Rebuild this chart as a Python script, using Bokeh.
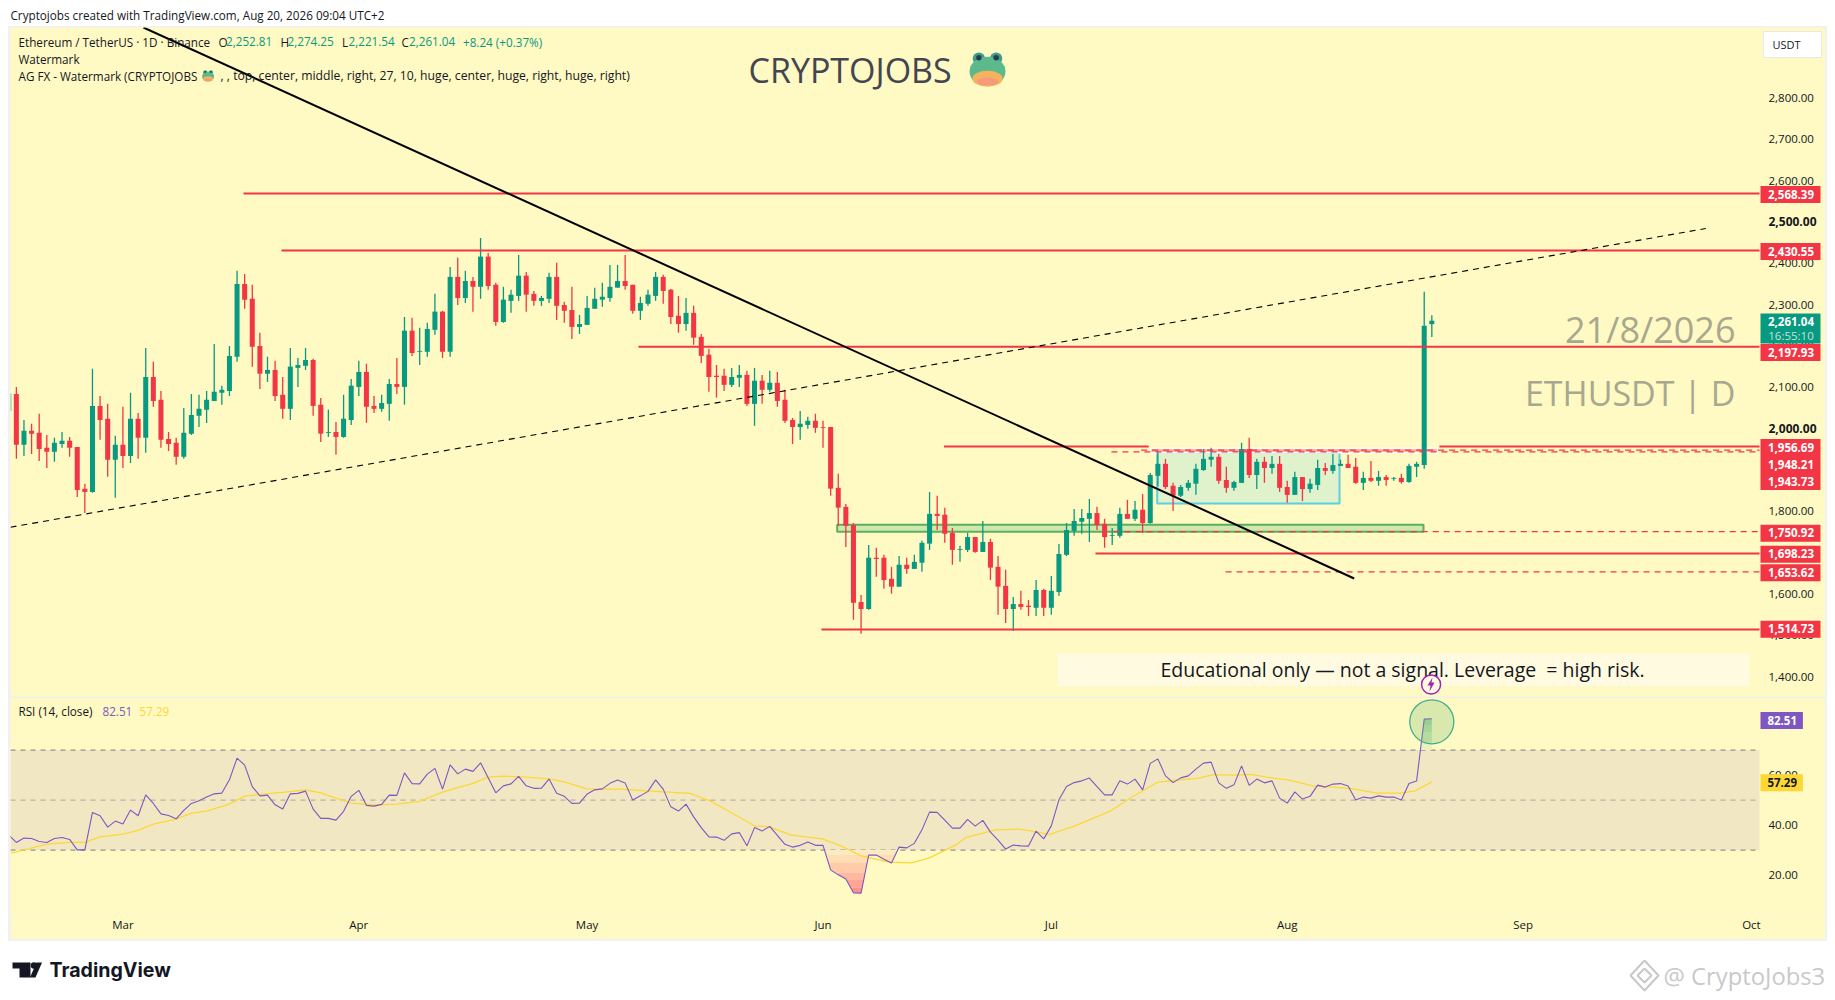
import numpy as np
from bokeh.plotting import figure
from bokeh.layouts import column
from bokeh.models import (Range1d, FixedTicker, NumeralTickFormatter, Label, BoxAnnotation,
                          ColumnDataSource, LinearAxis)
from bokeh.core.properties import value
from bokeh.embed import file_html
from bokeh.resources import INLINE

FIRST_DAY = -15   # day index relative to 1 March 2026
opens = [2043,2084,1961,1995,1990,1954,1944,1963,1971,1956,
 1855,1847,2055,2024,1925,1961,1934,2024,1978,2125,
 2070,1975,1966,1932,1988,2031,2046,2067,2087,2091,
 2174,2350,2314,2200,2133,2142,2082,2048,2147,2152,
 2166,2058,1990,1992,1980,2021,2101,2137,2055,2048,
 2060,2108,2101,2237,2186,2186,2239,2283,2186,2367,
 2316,2357,2343,2416,2348,2258,2309,2321,2370,2326,
 2309,2314,2367,2299,2287,2246,2251,2290,2312,2316,
 2341,2357,2348,2285,2302,2321,2367,2336,2273,2253,
 2280,2222,2179,2128,2128,2106,2123,2130,2060,2116,
 2094,2111,2070,2021,2004,2009,2019,2004,2004,1857,
 1811,1767,1581,1564,1688,1688,1637,1618,1671,1661,
 1676,1722,1794,1792,1748,1707,1707,1738,1702,1726,
 1666,1620,1564,1576,1572,1567,1610,1567,1605,1695,
 1753,1775,1782,1796,1770,1741,1741,1794,1782,1804,
 1772,1886,1915,1862,1838,1857,1867,1900,1925,1932,
 1876,1857,1869,1951,1888,1920,1905,1915,1859,1840,
 1883,1854,1864,1905,1898,1910,1915,1908,1869,1881,
 1874,1883,1879,1881,1871,1908,1912,2252.81]
highs = [2085,2101,2021,2012,2036,1985,1978,1992,1980,1956,
 1867,2145,2079,2060,1983,2053,2087,2038,2195,2162,
 2091,1992,1978,2050,2084,2082,2091,2205,2104,2200,
 2382,2374,2348,2232,2174,2164,2125,2195,2171,2195,
 2169,2074,2046,2016,2082,2120,2164,2157,2079,2082,
 2120,2171,2270,2268,2244,2256,2326,2285,2391,2413,
 2382,2367,2461,2425,2353,2343,2336,2420,2379,2333,
 2321,2377,2401,2307,2343,2275,2321,2341,2353,2396,
 2396,2420,2348,2319,2336,2379,2372,2338,2321,2316,
 2297,2229,2193,2154,2145,2147,2154,2140,2147,2130,
 2140,2137,2094,2026,2043,2029,2036,2019,2004,1891,
 1818,1772,1598,1719,1712,1695,1666,1692,1688,1695,
 1729,1847,1838,1809,1760,1717,1748,1738,1777,1734,
 1692,1659,1593,1608,1586,1634,1613,1644,1721,1772,
 1806,1806,1830,1811,1782,1760,1809,1828,1825,1842,
 1893,1944,1927,1869,1864,1876,1915,1951,1954,1939,
 1908,1874,1966,1978,1927,1932,1934,1934,1874,1896,
 1883,1879,1925,1917,1939,1925,1937,1929,1896,1922,
 1898,1888,1883,1891,1915,1920,2331,2274.25]
lows = [2043,1927,1934,1939,1922,1905,1920,1954,1932,1835,
 1796,1845,1973,1884,1833,1905,1917,1927,1942,2053,
 1954,1946,1913,1927,1985,2004,2014,2067,2058,2079,
 2162,2290,2150,2096,2113,2067,2024,2021,2101,2142,
 2031,1968,1980,1937,1978,2009,2079,2014,2038,2041,
 2019,2084,2058,2176,2154,2174,2227,2171,2174,2299,
 2304,2283,2314,2336,2249,2256,2280,2309,2283,2297,
 2297,2304,2263,2256,2217,2229,2251,2290,2295,2307,
 2341,2336,2278,2263,2297,2309,2302,2253,2232,2237,
 2203,2159,2089,2075,2091,2101,2101,2055,2007,2060,
 2089,2053,2014,1963,1973,2000,1990,1954,1838,1765,
 1714,1538,1504,1562,1642,1613,1601,1618,1649,1661,
 1654,1707,1755,1724,1671,1678,1702,1700,1702,1634,
 1550,1530,1511,1562,1547,1547,1547,1550,1596,1692,
 1741,1746,1726,1755,1712,1719,1736,1782,1777,1748,
 1770,1860,1854,1801,1835,1850,1840,1898,1908,1867,
 1845,1850,1869,1881,1854,1869,1891,1847,1821,1840,
 1825,1845,1852,1888,1891,1910,1905,1867,1852,1871,
 1862,1862,1874,1867,1869,1883,1903,2221.54]
closes = [2085,1961,1995,1988,1951,1944,1966,1971,1954,1852,
 1847,2055,2021,1925,1961,1934,2024,1978,2125,2067,
 1973,1963,1932,1990,2033,2048,2070,2089,2094,2176,
 2350,2312,2198,2133,2142,2079,2048,2150,2154,2166,
 2055,1988,1992,1980,2024,2104,2137,2053,2048,2062,
 2108,2101,2237,2183,2188,2241,2283,2186,2367,2316,
 2357,2343,2416,2345,2258,2312,2324,2370,2324,2309,
 2316,2367,2297,2285,2246,2253,2292,2314,2319,2343,
 2357,2345,2285,2304,2324,2367,2333,2270,2253,2280,
 2220,2176,2125,2125,2106,2125,2130,2060,2116,2094,
 2111,2067,2019,2004,2012,2019,2002,2002,1855,1809,
 1765,1579,1564,1688,1685,1634,1618,1671,1661,1678,
 1724,1794,1789,1746,1707,1709,1738,1702,1726,1664,
 1618,1564,1576,1569,1569,1610,1567,1608,1697,1755,
 1777,1784,1796,1767,1738,1743,1794,1782,1804,1772,
 1888,1915,1859,1838,1859,1869,1903,1927,1932,1874,
 1857,1871,1951,1888,1920,1905,1915,1857,1840,1883,
 1854,1867,1905,1898,1912,1915,1905,1869,1881,1874,
 1883,1876,1881,1871,1910,1915,2249,2261.04]

rsi_values = [36.0,33.07,34.8,34.67,33.47,33.07,34.67,35.07,34.27,30.1,30.1,45.07,43.73,39.2,41.6,40.4,
 46.0,43.73,52.1,48.66,44.5,43.86,42.5,45.9,48.66,49.7,51.2,52.5,52.8,58.1,66.8,64,55.4,51.7,52,48.1,46.4,
 52.5,52.7,53.6,46.4,42.7,42.7,42,45.5,51.5,53.9,47.9,47.6,48.3,52,51.9,60.9,56.6,56.5,60.4,62.7,54.4,64.1,
 60.5,62.4,61.5,64.9,58.9,52.9,55.7,56.5,59.5,55.7,54.7,54.8,58.4,52.7,51.5,48.7,48.8,52.4,54.1,54.5,56.7,58,
 56.8,50,51.7,53.5,58.1,54.4,47.3,45.6,48.4,43.3,39,35.3,35.2,33.9,36.5,37,31.7,39,37.6,39.5,35.9,32.3,31.2,
 31.9,33.2,31.9,31.9,22.1,20.1,18.4,12.9,12.8,28,28,26.3,24.8,31.2,30.9,32.7,38.1,45.2,45.1,42,38.8,38.8,42.3,
 39.6,41.9,37.2,34,30.4,32,31.7,31.6,37.6,34.5,39.7,50.1,55.4,57,57.7,58.8,55.4,52.1,52.1,57.7,56.4,58.4,54.1,
 64.7,66.5,59.7,57,58.9,59.7,62.4,64.8,65.2,56.9,54.7,56.1,63.7,55.9,58.4,56.9,57.7,50.8,48.8,53.3,50.4,51.5,
 56,55.2,56.4,56.6,55.6,50,51.2,50.8,51.7,51.2,51.2,50,56.6,57.6,82.4,82.51]

rsi_ma_days = [-14.7,-13,-10,-7,-5,-3,0,2,4,7,9,11,14,16,18,21,24,26,28,30,33,36,39,42,44,46,48,50,53,56,58,61,63,65.4,
 71,74.5,77,79.4,83,84.9,87.7,91.9,94.5,97,100.7,103.6,105.9,109.5,110.8,114.7,117.9,121.8,125.1,129.8,132.9,136,
 138.6,141.2,143.3,146,148.2,150.3,153.4,156.5,159.1,161.7,164.8,167.9,169.8,172]
rsi_ma_values = [28.8,30.1,32.4,33.1,33.1,35.3,36.4,37.9,40.4,42.4,44.8,45.6,48.4,51.6,52.3,53.1,54.1,52.9,50.8,48.8,48.1,48.4,
 49.5,53.2,55,56.7,59.2,59.6,59.2,58.5,57.3,54.5,54.4,54.4,53.3,52.7,49.9,45.9,39.7,39.4,36.1,34.5,31.5,27.7,25.2,24.9,
 26.8,32.1,35.1,38.1,38.4,36.3,39.7,45.7,51.7,57.2,58,58.7,60.2,60,60.3,59.2,57.9,55.6,55.2,54.5,52.8,52.8,53.7,57.29]

level_prices = [2568.39, 2430.55, 2197.93, 1698.23, 1514.73]
level_starts = [15.85, 20.84, 67.75, 127.8, 91.8]
dashed_prices = [1948.21, 1943.73, 1750.92, 1653.62]
dashed_starts = [133.8, 129.9, 130.2, 144.9]
price_ticks = [1400,1500,1600,1700,1800,1900,2100,2200,2300,2400,2600,2700,2800]
round_ticks = [2000,2500]
rsi_ticks = [20,40,60,80]
month_days = [0,31,61,92,122,153,184,214]
month_names = ["Mar","Apr","May","Jun","Jul","Aug","Sep","Oct"]

BG = "#FFF9C4"; RED = "#F23645"; GREEN = "#089981"; INK = "#131722"; FONT = "Open Sans"
TS = 11.7
dx = lambda px: (px - 122.4) / 7.61
py = lambda y: 2800 - (y - 97.3) / 0.4136
ry = lambda y: 70 - (y - 749.6) / 2.5
XR = (dx(10), dx(1825))      # the whole panel, price scale included
CHART_END = dx(1759)         # where the chart area meets the price scale
AXIS_STANDOFF = -57

def canvas_text(p, ox, oy, x, y, text, color=INK, size=TS, align="left", font=FONT, style="normal"):
    p.add_layout(Label(x=x - ox, y=y - oy - 1, x_units="canvas", y_units="canvas", text=text, text_color=color,
                       text_font=font, text_font_size=f"{size}px", text_align=align, text_baseline="middle",
                       text_font_style=style))

def canvas_box(p, ox, oy, x0, x1, y0, y1, color, line=None):
    p.add_layout(BoxAnnotation(left=x0 - ox, right=x1 - ox, top=y0 - oy, bottom=y1 - oy, left_units="canvas",
                               right_units="canvas", top_units="canvas", bottom_units="canvas",
                               fill_color=color, fill_alpha=1, line_color=line, line_alpha=1 if line else 0))

def tag(p, ox, oy, yc, text, bg=RED, fg="white", x0=1760, x1=1820, h=17):
    canvas_box(p, ox, oy, x0, x1, yc - h / 2, yc + h / 2, bg)
    canvas_text(p, ox, oy, (x0 + x1) / 2 + 0.5, yc + 0.5, text, fg, 11.5, "center", style="bold")

def style_axis(a, standoff):
    a.axis_line_color = None
    a.major_tick_line_color = None
    a.minor_tick_line_color = None
    a.major_tick_out = 0
    a.major_tick_in = 0
    a.major_label_standoff = standoff
    a.major_label_text_font = FONT
    a.major_label_text_font_size = "11.5px"
    a.major_label_text_color = INK

# ------------------------------------------------------------------ header
head = figure(width=1819, height=18, output_backend="svg", toolbar_location=None, x_axis_location=None,
              y_axis_location=None, min_border=0, outline_line_color=None, x_range=(0, 1), y_range=(0, 1))
head.grid.visible = False
canvas_text(head, 8, 8, 10, 15, "Cryptojobs created with TradingView.com, Aug 20, 2026 09:04 UTC+2")

# ------------------------------------------------------------------ price pane
p = figure(width=1815, height=669, output_backend="svg", toolbar_location=None, x_axis_location=None,
           y_axis_location="right", x_range=Range1d(*XR), y_range=Range1d(py(696), py(27)),
           min_border_left=0, min_border_right=0, min_border_top=0, min_border_bottom=0,
           background_fill_color=BG, border_fill_color=BG, outline_line_color=None, margin=(1, 2, 0, 2))
p.grid.visible = False
ax = p.yaxis[0]
ax.ticker = FixedTicker(ticks=price_ticks)
ax.formatter = NumeralTickFormatter(format="0,0.00")
style_axis(ax, AXIS_STANDOFF)
ax2 = LinearAxis(ticker=FixedTicker(ticks=round_ticks), formatter=NumeralTickFormatter(format="0,0.00"))
style_axis(ax2, AXIS_STANDOFF)
ax2.major_label_text_font_style = "bold"
ax2.major_label_text_font_size = "12px"
p.add_layout(ax2, "right")

# zones under the candles
p.quad(left=[dx(1156.7)], right=[dx(1339)], top=[py(452)], bottom=[py(503)], fill_color="#DFF2CC", fill_alpha=1,
       line_color="#5BD0E0", line_width=2)
p.quad(left=[dx(836.7)], right=[dx(1423)], top=[py(524.3)], bottom=[py(531.3)], fill_color="#CFE8B0", fill_alpha=1,
       line_color="#5CB05A", line_width=2)
p.quad(left=[dx(1150)], right=[dx(1437)], top=[py(447.7)], bottom=[py(452.3)], fill_color="#FFB199", fill_alpha=1,
       line_color="white", line_width=1.5)

# candles
days = np.arange(FIRST_DAY, FIRST_DAY + len(closes))
o, h, l, c = map(np.array, (opens, highs, lows, closes))
col = np.where(c >= o, GREEN, RED)
src = ColumnDataSource(dict(x=days, o=o, h=h, l=l, c=c, col=col))
p.segment("x", "h", "x", "l", source=src, color="col", line_width=1.3)
p.vbar("x", 0.66, "o", "c", source=src, fill_color="col", line_color=None)

# drawings over the candles
for price, start in zip(level_prices, level_starts):
    p.line([start, CHART_END], [price, price], color=RED, line_width=2)
p.line([107.9, 134.8], [1956.69, 1956.69], color=RED, line_width=2)
p.line([173, CHART_END], [1956.69, 1956.69], color=RED, line_width=2)
for price, start in zip(dashed_prices, dashed_starts):
    p.line([start, CHART_END], [price, price], color=RED, line_width=1.2, line_dash="6 5")
p.line([2.7, 161.8], [2970, 1637.8], color="black", line_width=2)
p.line([-14.77, 208], [1761.8, 2484], color="black", line_width=1.1, line_dash="6 5")

# frogs
def frog(cx, cy, s):
    def e(ox, oy, w, ht, color):
        p.ellipse([dx(cx + ox * s)], [py(cy + oy * s)], width=w * s, height=ht * s, width_units="screen",
                  height_units="screen", fill_color=color, line_color=None)
    e(-0.24, -0.36, 0.34, 0.34, "#3F9C8C"); e(0.24, -0.36, 0.34, 0.34, "#3F9C8C")
    e(0, 0.0, 1.0, 0.82, "#5BB98C")
    e(0, 0.2, 0.84, 0.44, "#F5B35C")
    e(0, 0.28, 0.6, 0.22, "#F59A7A")
    e(-0.24, -0.38, 0.15, 0.15, "#20404A"); e(0.24, -0.38, 0.15, 0.15, "#20404A")
frog(987, 71, 36)
frog(207.6, 76, 12)

# notice box
p.quad(left=[dx(1057)], right=[dx(1749)], top=[py(653)], bottom=[py(685.7)], fill_color="#FFFAE0", line_color=None)

# top-left legend
O = 10; T = 27
canvas_text(p, O, T, 18, 42, "Ethereum / TetherUS · 1D · Binance")
for x, s, clr in [(218, "O", INK), (225.5, "2,252.81", GREEN), (280, "H", INK), (287, "2,274.25", GREEN),
                  (341.5, "L", INK), (348, "2,221.54", GREEN), (401, "C", INK), (408.5, "2,261.04", GREEN),
                  (462.5, "+8.24 (+0.37%)", GREEN)]:
    canvas_text(p, O, T, x, 42, s, clr)
canvas_text(p, O, T, 18, 59, "Watermark")
canvas_text(p, O, T, 18, 76, "AG FX - Watermark (CRYPTOJOBS")
canvas_text(p, O, T, 220, 76, ", , top, center, middle, right, 27, 10, huge, center, huge, right, huge, right)", size=12.2)
canvas_text(p, O, T, 748, 70, "CRYPTOJOBS", "#434651", 34)
canvas_text(p, O, T, 1735, 330, "21/8/2026", "#A8A88E", 36, "right")
canvas_text(p, O, T, 1735, 393, "ETHUSDT | D", "#A8A88E", 34, "right")
canvas_text(p, O, T, 1402, 670, "Educational only — not a signal. Leverage \u00a0= high risk.", INK, 19.5, "center")

# lightning badge
p.scatter([dx(1430.6)], [py(684)], size=19, marker="circle", fill_color="#FFF9E4", line_color="#9C27B0",
          line_width=1.5, level="overlay")
p.patch([dx(v) for v in (1432, 1427, 1430, 1429, 1434, 1431)], [py(v) for v in (677, 685, 685, 691, 682, 682)],
        fill_color="#9C27B0", line_color=None, level="overlay")

# USDT button and price tags
canvas_box(p, O, T, 1763, 1821, 31, 57, "white", "#E8E8E8")
canvas_text(p, O, T, 1772, 45, "USDT", INK, 11)
tag(p, O, T, 194, "2,568.39")
tag(p, O, T, 251, "2,430.55")
tag(p, O, T, 352, "2,197.93")
tag(p, O, T, 447, "1,956.69")
tag(p, O, T, 464, "1,948.21")
tag(p, O, T, 481, "1,943.73")
tag(p, O, T, 532.7, "1,750.92")
tag(p, O, T, 553.7, "1,698.23")
tag(p, O, T, 572.3, "1,653.62")
tag(p, O, T, 628.7, "1,514.73")
canvas_box(p, O, T, 1760, 1820, 313, 343, GREEN)
canvas_text(p, O, T, 1790.5, 321.5, "2,261.04", "white", 11.5, "center", style="bold")
canvas_text(p, O, T, 1790.5, 335.5, "16:55:10", "#BFE6DC", 11.5, "center")

# ------------------------------------------------------------------ RSI pane
r = figure(width=1815, height=243, output_backend="svg", toolbar_location=None, x_axis_location="below",
           y_axis_location="right", x_range=Range1d(*XR), y_range=Range1d(ry(912), ry(697)),
           min_border_left=0, min_border_right=0, min_border_top=1, min_border_bottom=27,
           background_fill_color=BG, border_fill_color=BG, outline_line_color=None, margin=(0, 2, 2, 2))
r.grid.visible = False
ay = r.yaxis[0]
ay.ticker = FixedTicker(ticks=rsi_ticks)
ay.formatter = NumeralTickFormatter(format="0.00")
style_axis(ay, AXIS_STANDOFF)
axx = r.xaxis[0]
axx.ticker = FixedTicker(ticks=month_days)
axx.major_label_overrides = dict(zip(month_days, month_names))
style_axis(axx, 4)

r.quad(left=[XR[0]], right=[CHART_END], top=[70], bottom=[30], fill_color="#F2E7C3", line_color=None)
for lev, al in ((70, 1), (50, 0.6), (30, 1)):
    r.line([XR[0], CHART_END], [lev, lev], color="#787B86", line_width=1, line_dash="5 5", line_alpha=al)

rsi = np.array(rsi_values)
rd = days.astype(float)
fine = np.linspace(rd[0], rd[-1], 3751)
rf = np.interp(fine, rd, rsi)
for lo, hi, clr in ((28, 30, "#FBEBC0"), (25, 28, "#FFDDB5"), (21, 25, "#FFCBA8"), (18, 21, "#FFB8A0"),
                    (15, 18, "#FFA595"), (12, 15, "#FF8F8A")):
    r.varea(fine, np.clip(rf, lo, hi), np.full_like(fine, hi), fill_color=clr)
for lo, hi, clr in ((70, 73, "#EAF0C0"), (73, 77, "#CFE6B0"), (77, 80, "#BBDDA8"), (80, 83, "#A9D6A0")):
    r.varea(fine, np.full_like(fine, lo), np.clip(rf, lo, hi), fill_color=clr)

r.line(rsi_ma_days, rsi_ma_values, color="#FDD835", line_width=1.2)
r.line(rd, rsi, color="#7E57C2", line_width=1.1)
r.scatter([172], [ry(721.3)], size=44, marker="circle", fill_color="#66BB6A", fill_alpha=0.25, line_color="#3FAE8C",
          line_width=1.3)

O2 = 10; T2 = 696
canvas_box(r, O2, T2, 10, 1825, 696, 697, "#D6DAE6")
canvas_text(r, O2, T2, 18, 711.7, "RSI (14, close)", INK)
canvas_text(r, O2, T2, 102, 711.7, "82.51", "#7E57C2")
canvas_text(r, O2, T2, 139, 711.7, "57.29", "#FDD835")
tag(r, O2, T2, 720, "82.51", "#7E57C2", "white", 1760, 1802.4)
tag(r, O2, T2, 782.3, "57.29", "#FDD835", INK, 1760, 1802.4)

# ------------------------------------------------------------------ footer
foot = figure(width=1819, height=51, output_backend="svg", toolbar_location=None, x_axis_location=None,
              y_axis_location=None, min_border=0, min_border_left=0, min_border_right=0, min_border_top=0,
              min_border_bottom=0, outline_line_color=None, x_range=Range1d(8, 1827), y_range=Range1d(992, 941))
foot.grid.visible = False
foot.patch([12, 30, 30, 19, 19, 12], [962, 962, 977, 977, 968, 968], fill_color="#131722", line_color=None)
foot.scatter([33.5], [965], size=6.5, marker="circle", fill_color="#131722", line_color=None)
foot.patch([36, 41.5, 35, 29.5], [962, 962, 977, 977], fill_color="#131722", line_color=None)
foot.text([49], [969], text=["TradingView"], text_font=value("Inter"), text_font_style="bold", text_font_size="19.6px",
          text_baseline="middle", text_color="#131722")
foot.multi_line([[1644, 1658, 1644, 1630, 1644], [1644, 1651, 1644, 1637, 1644]],
                [[960, 975, 990, 975, 960], [968, 975, 982, 975, 968]], line_color="#C8C8C8", line_width=2)
foot.text([1663], [975], text=["@ CryptoJobs3"], text_font=value(FONT), text_font_size="23.8px",
          text_baseline="middle", text_color="#C9C9C9")

panes = column(p, r, spacing=0, margin=0, styles={"background-color": "#F0F1F3"})
page = column(head, panes, foot, spacing=0, margin=(8, 0, 0, 8))
open("out.html", "w").write(file_html(page, INLINE))
